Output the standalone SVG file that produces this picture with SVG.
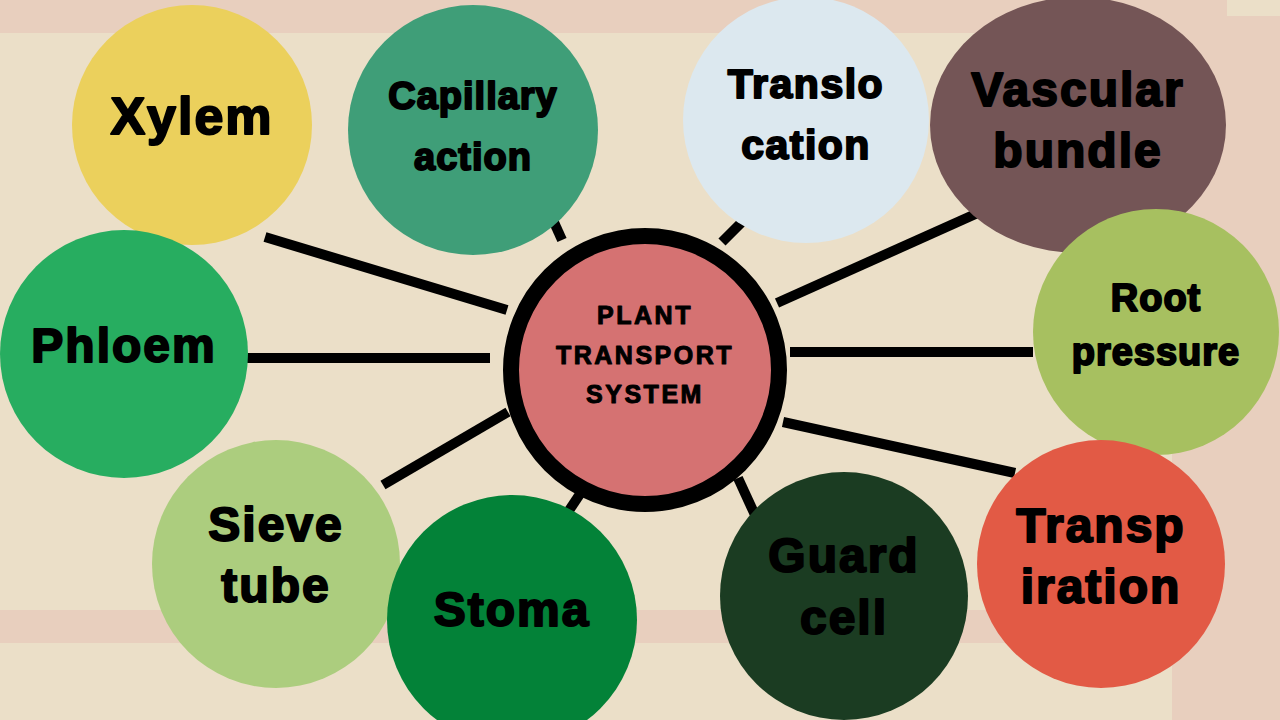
<svg xmlns="http://www.w3.org/2000/svg" width="1280" height="720" viewBox="0 0 1280 720">
<style>
text{font-family:"Liberation Sans",Arial,sans-serif;font-weight:bold;text-anchor:middle;fill:#000;stroke:#000;stroke-linejoin:round}
.t{font-size:48px;letter-spacing:2px;stroke-width:2px}
.c{font-size:25px;letter-spacing:2.5px;stroke-width:1px}
#connectors line{stroke:#000;stroke-width:10}
</style>
<rect width="1280" height="720" fill="#ebdfc8"/>
<rect x="0" y="0" width="1280" height="33" fill="#e8cfbe"/>
<rect x="1172" y="0" width="108" height="720" fill="#e8cfbe"/>
<rect x="1227" y="0" width="53" height="16" fill="#ebdfc8"/>
<rect x="0" y="610" width="1172" height="33" fill="#e8cfbe"/>
<g id="connectors">
<line x1="265" y1="237" x2="507" y2="310"/>
<line x1="553" y1="220" x2="562" y2="240"/>
<line x1="742" y1="222" x2="722" y2="242"/>
<line x1="980" y1="212" x2="777" y2="303"/>
<line x1="790" y1="352" x2="1033" y2="352"/>
<line x1="247" y1="358" x2="490" y2="358"/>
<line x1="383" y1="485" x2="508" y2="412"/>
<line x1="568" y1="512" x2="580" y2="494"/>
<line x1="738" y1="478" x2="755" y2="515"/>
<line x1="783" y1="422" x2="1015" y2="473"/>
</g>
<g id="xylem"><circle cx="192" cy="125" r="120" fill="#ebd05c"/><text class="t" x="192" y="134" style="font-size:52px">Xylem</text></g>
<g id="capillary"><circle cx="473" cy="130" r="125" fill="#3f9e78"/><text class="t" x="473" y="109" style="font-size:38px;letter-spacing:1px">Capillary</text><text class="t" x="473" y="170" style="font-size:38px;letter-spacing:1px">action</text></g>
<g id="translocation"><circle cx="806" cy="120" r="123" fill="#dce8ef"/><text class="t" x="806" y="98" style="font-size:41px;letter-spacing:1.5px">Translo</text><text class="t" x="806" y="159" style="font-size:41px;letter-spacing:1.5px">cation</text></g>
<g id="vascular"><ellipse cx="1078" cy="125" rx="148" ry="128" fill="#745556"/><text class="t" x="1078" y="106">Vascular</text><text class="t" x="1078" y="167">bundle</text></g>
<g id="root"><circle cx="1156" cy="332" r="123" fill="#a7c060"/><text class="t" x="1156" y="311" style="font-size:38px;letter-spacing:1px">Root</text><text class="t" x="1156" y="365" style="font-size:38px;letter-spacing:1px">pressure</text></g>
<g id="phloem"><circle cx="124" cy="354" r="124" fill="#27ad60"/><text class="t" x="124" y="362">Phloem</text></g>
<g id="sieve"><circle cx="276" cy="564" r="124" fill="#accd7e"/><text class="t" x="276" y="541">Sieve</text><text class="t" x="276" y="602">tube</text></g>
<g id="stoma"><circle cx="512" cy="620" r="125" fill="#038238"/><text class="t" x="512" y="626">Stoma</text></g>
<g id="guard"><circle cx="844" cy="596" r="124" fill="#1b3c22"/><text class="t" x="844" y="572">Guard</text><text class="t" x="844" y="634">cell</text></g>
<g id="transpiration"><circle cx="1101" cy="564" r="124" fill="#e25a45"/><text class="t" x="1101" y="542">Transp</text><text class="t" x="1101" y="603">iration</text></g>
<g id="center"><circle cx="645" cy="370" r="134" fill="#d57272" stroke="#000" stroke-width="16"/>
<text class="c" x="645" y="324">PLANT</text><text class="c" x="645" y="364">TRANSPORT</text><text class="c" x="645" y="403">SYSTEM</text></g>
</svg>
